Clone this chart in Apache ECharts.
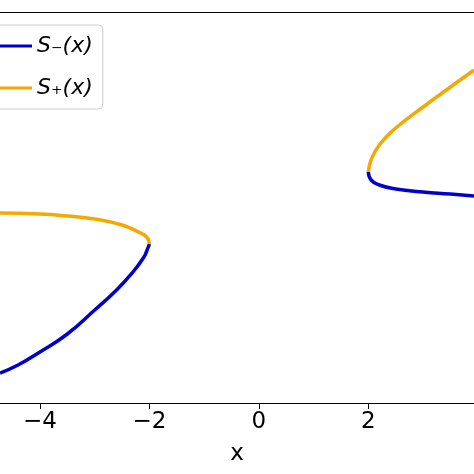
<!DOCTYPE html>
<html>
<head>
<meta charset="UTF-8">
<script src="https://cdn.jsdelivr.net/npm/echarts@6/dist/echarts.min.js"></script>
<style>body{margin:0}#main{width:474px;height:474px}</style>
</head>
<body>
<div id="main"></div>
<script>
// y values are in arbitrary units (the y axis is cropped out of the reference)
var leftOrange = [[-2,159],[-2.05,166],[-2.2,171],[-2.5,178],[-3,184],[-3.5,187],[-4,189],[-4.73,190]];
var leftBlue = [[-2,159],[-2.05,152],[-2.1,146],[-2.3,131],[-2.6,113],[-3,93],[-3.5,69],[-4,51],[-4.4,38],[-4.73,30]];
var rightOrange = [[2,231],[2.05,243],[2.2,258],[2.5,275],[3,296],[3.5,316],[3.93,333]];
var rightBlue = [[2,231],[2.05,223],[2.2,218],[2.5,214],[3,211],[3.5,209],[3.93,207]];
var xTicks = [-4, -2, 0, 2];

var chart = echarts.init(document.getElementById('main'));
function line(name, data, color) {
    return {name: name, type: 'line', data: data, smooth: 0.5, showSymbol: false,
        lineStyle: {color: color, width: 3.5}, itemStyle: {color: color}};
}
chart.setOption({
    animation: false,
    grid: {left: 0, right: 0, top: 12, bottom: 71},
    legend: {
        left: -10, top: 25, orient: 'vertical', icon: 'rect', itemWidth: 32, itemHeight: 3, itemGap: 20,
        backgroundColor: '#fff', borderColor: '#ccc', borderWidth: 1, borderRadius: 4,
        padding: [10, 10, 10, 10],
        textStyle: {fontSize: 22, color: '#000', fontStyle: 'italic', fontFamily: 'DejaVu Sans'},
        data: ['S\u208B(x)', 'S\u208A(x)']
    },
    xAxis: [{
        type: 'value', min: -4.73, max: 3.93, name: 'x', nameLocation: 'middle', nameGap: 40,
        nameTextStyle: {fontSize: 23, color: '#000', fontFamily: 'DejaVu Sans'},
        axisLine: {lineStyle: {color: '#000'}}, splitLine: {show: false},
        axisTick: {customValues: xTicks, length: 6, lineStyle: {color: '#000'}},
        axisLabel: {customValues: xTicks, fontSize: 23, color: '#000', fontFamily: 'DejaVu Sans',
            formatter: function (v) { return String(v).replace('-', '\u2212'); }}
    }, {
        type: 'value', position: 'top', min: -4.73, max: 3.93,
        axisLine: {show: true, lineStyle: {color: '#000'}}, axisTick: {show: false},
        axisLabel: {show: false}, splitLine: {show: false}
    }],
    yAxis: {type: 'value', min: 0, max: 391, show: false},
    series: [
        line('S\u208B(x)', leftBlue, '#0000cc'),
        line('S\u208B(x)', rightBlue, '#0000cc'),
        line('S\u208A(x)', leftOrange, '#f5a800'),
        line('S\u208A(x)', rightOrange, '#f5a800')
    ]
});
</script>
</body>
</html>
